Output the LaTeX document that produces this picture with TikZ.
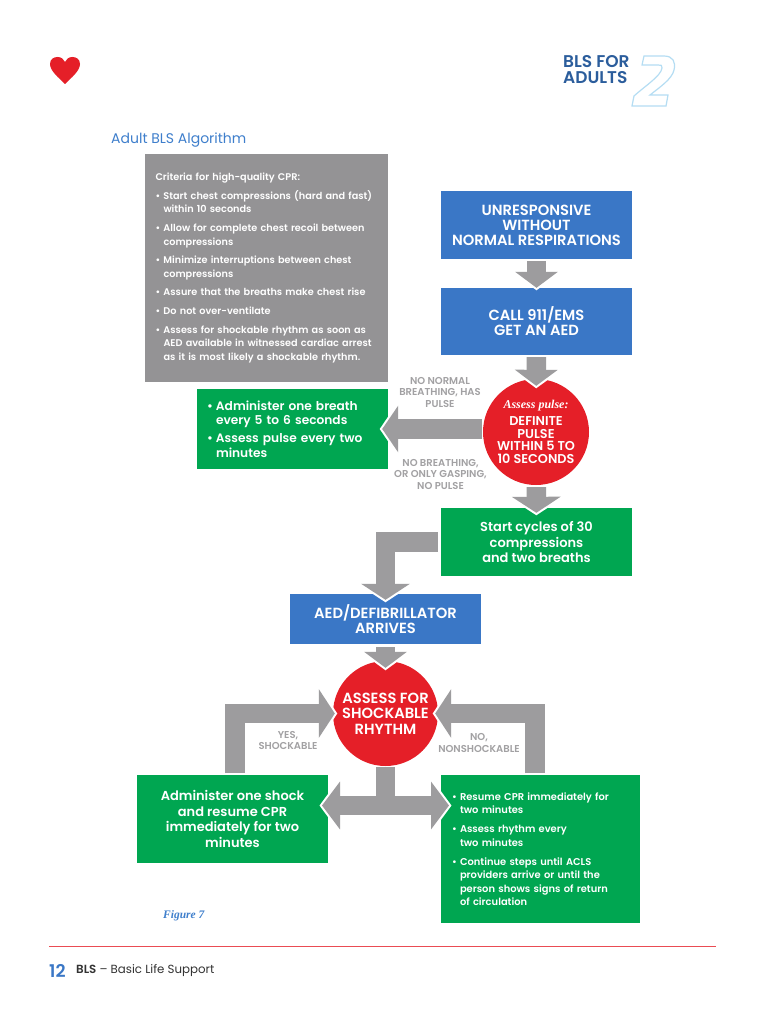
\documentclass[tikz,border=0pt]{standalone}
\usepackage{fontspec}
\setmainfont{Poppins}[BoldFont={Poppins SemiBold}]
\newfontfamily\serifit{Liberation Serif}
\usetikzlibrary{arrows.meta}
\definecolor{boxblue}{HTML}{3A77C6}
\definecolor{boxgreen}{HTML}{00A651}
\definecolor{boxgray}{HTML}{949395}
\definecolor{boxred}{HTML}{E51F28}
\definecolor{arrowgray}{HTML}{9D9C9E}
\definecolor{labelgray}{HTML}{A2A1A3}
\definecolor{headblue}{HTML}{2B5D9C}
\definecolor{titleblue}{HTML}{3F7FCC}
\definecolor{numeralblue}{HTML}{B5DDF3}
\tikzset{basic/.style={text=white,font=\bfseries\fontsize{13}{15.4}\selectfont,
                       inner sep=0pt,align=center}}
\tikzset{bluebox/.style={basic,fill=boxblue,minimum width=191pt,
                       font=\bfseries\fontsize{14.7}{15}\selectfont}}
\tikzset{greenbox/.style={basic,fill=boxgreen,minimum width=191pt}}
\tikzset{redcircle/.style={basic,circle,fill=boxred}}
\tikzset{notes/.style={text=labelgray,font=\bfseries\fontsize{10}{11.5}\selectfont,
                       inner sep=0pt,align=center}}
\tikzset{blockline/.style={draw=arrowgray,line width=19.5pt}}
\tikzset{blockarrow/.style 2 args={blockline,shorten >={-(#2)},-{Triangle[length=16pt,width=#1]},
                       preaction={draw=white,line width=22pt,shorten >={-(#2+2.5pt)},
                       -{Triangle[length=19pt,width=#1+9pt]}}}}
\newcommand{\blt}{\makebox[8pt][l]{\textbullet}}
\newcommand{\ind}{\hspace*{8pt}}
\begin{document}
\begin{tikzpicture}[x=1pt,y=-1pt]
    \fill[white] (0,0) rectangle (768,1024);
    \useasboundingbox (0,0) rectangle (768,1024);

    % page head
    \fill[boxred] (65,84) .. controls (59,78) and (50,71) .. (50,64)
        .. controls (50,59) and (54,57) .. (57.5,57)
        .. controls (61,57) and (64,59) .. (65,62)
        .. controls (66,59) and (69,57) .. (72.5,57)
        .. controls (76,57) and (80,59) .. (80,64)
        .. controls (80,71) and (71,78) .. (65,84) -- cycle;
    \node[text=headblue,font=\bfseries\fontsize{17}{15.5}\selectfont,align=left,
          inner sep=0pt,anchor=west] (chapter) at (563,69.5) {BLS FOR\\ADULTS};
    \draw[draw=numeralblue,line width=1.2pt] (644,56) -- (664,56)
        .. controls (673,56) and (676,62) .. (674,70)
        .. controls (672,79) and (660,87) .. (650,95) -- (668,95) -- (666,106) -- (632,106)
        -- (634,96) .. controls (645,86) and (661,76) .. (662,68)
        .. controls (662.5,65) and (661,65) .. (658,65) -- (642,65) -- cycle;
    \node[text=titleblue,font=\fontsize{14}{16}\selectfont,inner sep=0pt,anchor=west]
        (title) at (111,140) {Adult BLS Algorithm};

    % criteria
    \node[basic,fill=boxgray,minimum width=243pt,minimum height=228pt,text width=222pt,align=left,
          font=\bfseries\fontsize{9.7}{13.6}\selectfont] (criteria) at (266.5,268) {%
        Criteria for high-quality CPR:\\[5pt]
        \blt Start chest compressions (hard and fast)\\
        \ind within 10 seconds\\[5pt]
        \blt Allow for complete chest recoil between\\
        \ind compressions\\[5pt]
        \blt Minimize interruptions between chest\\
        \ind compressions\\[5pt]
        \blt Assure that the breaths make chest rise\\[5pt]
        \blt Do not over-ventilate\\[5pt]
        \blt Assess for shockable rhythm as soon as\\
        \ind AED available in witnessed cardiac arrest\\
        \ind as it is most likely a shockable rhythm.};

    % boxes
    \node[bluebox,minimum height=68pt] (unresp) at (536.5,225)
        {UNRESPONSIVE\\WITHOUT\\NORMAL RESPIRATIONS};
    \node[bluebox,minimum height=67pt] (call) at (536.5,321.5)
        {CALL 911/EMS\\GET AN AED};
    \node[redcircle,minimum size=106pt,font=\bfseries\fontsize{12.8}{12.8}\selectfont] (pulse) at (536,432)
        {{\serifit\bfseries\itshape\fontsize{12}{12}\selectfont Assess pulse:}\\[4pt]DEFINITE\\PULSE\\WITHIN 5 TO\\10 SECONDS};
    \node[greenbox,minimum height=80pt,text width=171pt,align=left,
          font=\bfseries\fontsize{12.2}{14.6}\selectfont] (breath) at (292.5,429) {%
        \makebox[9pt][l]{\textbullet}Administer one breath\\
        \hspace*{9pt}every 5 to 6 seconds\\[3.5pt]
        \makebox[9pt][l]{\textbullet}Assess pulse every two\\
        \hspace*{9pt}minutes};
    \node[greenbox,minimum height=68pt] (cycles) at (536.5,542)
        {Start cycles of 30\\compressions\\and two breaths};
    \node[bluebox,minimum height=50pt] (aed) at (385.5,619)
        {AED/DEFIBRILLATOR\\ARRIVES};
    \node[redcircle,minimum size=105pt,font=\bfseries\fontsize{14.7}{15.5}\selectfont] (rhythm) at (385.5,713.5)
        {ASSESS FOR\\SHOCKABLE\\RHYTHM};
    \node[greenbox,minimum height=88pt] (shock) at (232.5,819)
        {Administer one shock\\and resume CPR\\immediately for two\\minutes};
    \node[greenbox,minimum width=199pt,minimum height=148pt,text width=177pt,align=left,
          font=\bfseries\fontsize{9.9}{13.3}\selectfont] (resume) at (540.5,849) {%
        \blt Resume CPR immediately for\\
        \ind two minutes\\[6pt]
        \blt Assess rhythm every\\
        \ind two minutes\\[6pt]
        \blt Continue steps until ACLS\\
        \ind providers arrive or until the\\
        \ind person shows signs of return\\
        \ind of circulation};

    % free ends
    \coordinate (shockup) at (235,773);
    \coordinate (resumeup) at (535,773);
    \coordinate (shocktip) at (322,805.5);
    \coordinate (resumetip) at (449,805.5);
    \coordinate (tee) at (385.5,805.5);

    % arrows
    \draw[blockarrow={42pt}{0pt},shorten <=2pt] (unresp) -- (call);
    \draw[blockarrow={42pt}{7pt},shorten <=2pt] (call) -- (pulse);
    \draw[blockarrow={48pt}{5pt},shorten <=2pt] (pulse) -- (cycles);
    \draw[blockarrow={46pt}{6pt},shorten <=1pt] (pulse.west |- breath.east) -- (breath.east);
    \draw[blockarrow={48pt}{6pt},shorten <=3pt] (cycles.west) -| (aed.north);
    \draw[blockarrow={42pt}{7pt},shorten <=3pt] (aed) -- (rhythm);
    \draw[blockarrow={48pt}{2pt}] (shockup) |- (rhythm.west);
    \draw[blockarrow={48pt}{3pt}] (resumeup) |- (rhythm.east);
    \draw[blockline,{Triangle[length=18pt,width=47pt]}-{Triangle[length=18pt,width=47pt]},
        preaction={draw=white,line width=22pt,shorten <=-2.5pt,shorten >=-2.5pt,
        {Triangle[length=21pt,width=56pt]}-{Triangle[length=21pt,width=56pt]}}]
        (shocktip) -- (resumetip);
    \draw[blockline,shorten <=1pt] (rhythm.south) -- (tee);

    % arrow labels
    \node[notes] (haspulse) at (440,392) {NO NORMAL\\BREATHING, HAS\\PULSE};
    \node[notes] (nopulse) at (440.5,474) {NO BREATHING,\\OR ONLY GASPING,\\NO PULSE};
    \node[notes] (yesshock) at (288,740.5) {YES,\\SHOCKABLE};
    \node[notes] (noshock) at (479,743) {NO,\\NONSHOCKABLE};

    % page foot
    \node[text=titleblue,font=\serifit\bfseries\itshape\fontsize{11.5}{13}\selectfont,inner sep=0pt,anchor=west]
        (figure) at (163,916) {Figure 7};
    \coordinate (footl) at (49,946);
    \coordinate (footr) at (716,946);
    \draw[draw=boxred!80!white,line width=1pt] (footl) -- (footr);
    \node[text=boxblue,font=\bfseries\fontsize{17.5}{18}\selectfont,inner sep=0pt,anchor=west]
        (pageno) at (49,971) {12};
    \node[text=black!80,font=\fontsize{11.8}{14}\selectfont,inner sep=0pt,anchor=west]
        (foot) at (76,971) {\textbf{BLS} -- Basic Life Support};
\end{tikzpicture}
\end{document}
